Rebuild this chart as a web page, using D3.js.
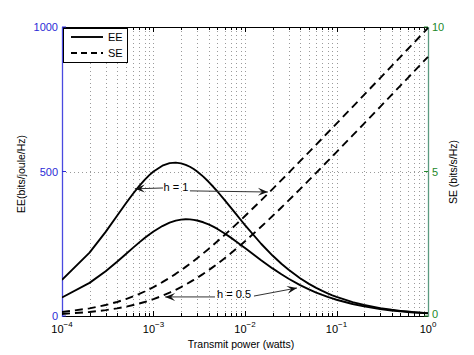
<!DOCTYPE html>
<html><head><meta charset="utf-8">
<script src="https://cdn.jsdelivr.net/npm/d3@7"></script>
<style>
body{margin:0;background:#fff;}
text{font-family:"Liberation Sans",Arial,Helvetica,sans-serif;}
</style></head>
<body><svg id="c" width="474" height="355"></svg>
<script>
// Transmit power samples (watts)
const power = [1e-4,2e-4,3e-4,4e-4,5e-4,6e-4,7e-4,8e-4,9e-4,
  1e-3,1.25e-3,1.5e-3,1.75e-3,2e-3,2.25e-3,2.5e-3,2.75e-3,3e-3,3.5e-3,4e-3,4.5e-3,5e-3,6e-3,7e-3,8e-3,9e-3,
  1e-2,1.5e-2,2e-2,2.5e-2,3e-2,4e-2,5e-2,6e-2,7e-2,8e-2,9e-2,
  0.1,0.15,0.2,0.3,0.4,0.5,0.6,0.7,0.8,0.9,1];
// Energy efficiency (bits/joule/Hz)
const eeH1 = [125.0,219.2,291.2,346.7,390.0,423.8,450.3,471.1,487.4,
  500.0,520.0,528.8,530.7,528.3,523.2,516.4,508.5,500.0,482.2,464.4,447.2,430.8,401.1,375.0,352.2,332.2,
  314.5,250.0,209.2,180.8,159.8,130.7,111.2,97.2,86.6,78.3,71.5,
  65.9,47.9,38.1,27.4,21.6,17.9,15.4,13.5,12.0,10.9,10.0];
const eeH05 = [64.0,114.6,155.1,187.9,214.6,236.6,254.7,269.7,282.2,
  292.5,311.3,323.0,329.8,333.3,334.6,334.3,332.8,330.5,324.3,317.0,309.2,301.2,285.7,271.2,258.0,245.9,
  235.0,193.0,164.7,144.4,129.0,107.1,92.2,81.2,72.8,66.1,60.7,
  56.2,41.4,33.1,24.0,19.1,15.9,13.7,12.1,10.8,9.8,9.0];
// Spectral efficiency (bits/s/Hz)
const seH1 = [0.138,0.263,0.379,0.485,0.585,0.678,0.766,0.848,0.926,
  1.000,1.170,1.322,1.459,1.585,1.700,1.807,1.907,2.000,2.170,2.322,2.459,2.585,2.807,3.000,3.170,3.322,
  3.459,4.000,4.392,4.700,4.954,5.358,5.672,5.931,6.150,6.340,6.508,
  6.658,7.238,7.651,8.234,8.647,8.969,9.231,9.453,9.646,9.816,9.967];
const seH05 = [0.070,0.138,0.202,0.263,0.322,0.379,0.433,0.485,0.536,
  0.585,0.700,0.807,0.907,1.000,1.088,1.170,1.248,1.322,1.459,1.585,1.700,1.807,2.000,2.170,2.322,2.459,
  2.585,3.088,3.459,3.755,4.000,4.392,4.700,4.954,5.170,5.358,5.524,
  5.672,6.248,6.658,7.238,7.651,7.972,8.234,8.455,8.647,8.817,8.969];
const xTickExps = [-4,-3,-2,-1,0];
const leftTicks = [0,500,1000];
const rightTicks = [0,5,10];
const legendLabels = ["EE","SE"];
// annotations: text [p, EE], line start, arrow tip (left-axis units)
const annotations = [
  {label:"h = 1", text:[1.76e-3,446], lines:[[[1.27e-3,443],[6.25e-4,440]],[[2.5e-3,433],[0.0178,429]]]},
  {label:"h = 0.5", text:[7.59e-3,76], lines:[[[4.7e-3,66],[1.34e-3,66]],[[0.01253,69],[0.037,97]]]}
];

const svg = d3.select("#c");
const L=62,R=428,T=27,B=316;
const x = d3.scaleLog().domain([1e-4,1]).range([L,R]);
const yL = d3.scaleLinear().domain([0,1000]).range([B,T]);
const yR = d3.scaleLinear().domain([0,10]).range([B,T]);
const blue="#2b2bd6", green="#22882a";

// grid
const allTicks=[];
for(let e=-4;e<0;e++) for(let m=1;m<10;m++) allTicks.push(m*Math.pow(10,e));
allTicks.push(1);
const grid=svg.append("g").attr("stroke","#9a9a9a").attr("stroke-width",1).attr("stroke-dasharray","1,3");
allTicks.filter(v=>v>1e-4 && v<1).forEach(v=>{
  const px=Math.round(x(v))+0.5;
  grid.append("line").attr("x1",px).attr("x2",px).attr("y1",T).attr("y2",B);
});
grid.append("line").attr("x1",L).attr("x2",R).attr("y1",Math.round(yL(500))+0.5).attr("y2",Math.round(yL(500))+0.5);

// x ticks top & bottom
const tk=svg.append("g").attr("stroke","#000").attr("stroke-width",1);
allTicks.forEach(v=>{
  const px=Math.round(x(v))+0.5;
  const major = Math.abs(Math.log10(v)-Math.round(Math.log10(v)))<1e-9;
  const len = major?5:3;
  tk.append("line").attr("x1",px).attr("x2",px).attr("y1",B).attr("y2",B-len);
  tk.append("line").attr("x1",px).attr("x2",px).attr("y1",T).attr("y2",T+len);
});
svg.append("line").attr("x1",L).attr("x2",R).attr("y1",T+0.5).attr("y2",T+0.5).attr("stroke","#000");
svg.append("line").attr("x1",L).attr("x2",R).attr("y1",B+0.5).attr("y2",B+0.5).attr("stroke","#000");

// x tick labels
xTickExps.forEach(e=>{
  const t=svg.append("text").attr("x",x(Math.pow(10,e))).attr("y",333).attr("text-anchor","middle")
    .attr("font-size",11).attr("fill","#000");
  t.append("tspan").text("10");
  t.append("tspan").attr("dy",-6).attr("font-size",8).text(e===0?"0":"\u2212"+(-e));
});
svg.append("text").attr("x",(L+R)/2-4).attr("y",348).attr("text-anchor","middle").attr("font-size",10.5).text("Transmit power (watts)");

// left axis
svg.append("line").attr("x1",L+0.5).attr("x2",L+0.5).attr("y1",T).attr("y2",B+1).attr("stroke","#4a4ae0").attr("stroke-width",1.3);
leftTicks.forEach(v=>{
  svg.append("line").attr("x1",L).attr("x2",L+4).attr("y1",yL(v)).attr("y2",yL(v)).attr("stroke",blue);
  svg.append("text").attr("x",58).attr("y",yL(v)+4).attr("text-anchor","end").attr("font-size",11).attr("fill",blue).text(v);
});
svg.append("text").attr("transform","translate(25,174) rotate(-90)").attr("text-anchor","middle").attr("font-size",10.5).text("EE(bits/joule/Hz)");

// right axis
svg.append("line").attr("x1",R+0.5).attr("x2",R+0.5).attr("y1",T).attr("y2",B+1).attr("stroke","#5a9a80").attr("stroke-width",1.3);
rightTicks.forEach(v=>{
  svg.append("line").attr("x1",R).attr("x2",R-4).attr("y1",yR(v)).attr("y2",yR(v)).attr("stroke",green);
  svg.append("text").attr("x",432).attr("y",yR(v)+(v===0?2:4)).attr("text-anchor","start").attr("font-size",11).attr("fill",green).text(v);
});
svg.append("text").attr("transform","translate(457,172) rotate(-90)").attr("text-anchor","middle").attr("font-size",10.5).text("SE (bits/s/Hz)");

// curves
svg.append("clipPath").attr("id","pc").append("rect").attr("x",L).attr("y",T-2).attr("width",R-L+2).attr("height",B-T+3);
const lineL = d3.line().x((d,i)=>x(power[i])).y(d=>yL(d));
const lineR = d3.line().x((d,i)=>x(power[i])).y(d=>yR(d));
const cg = svg.append("g").attr("clip-path","url(#pc)").attr("fill","none").attr("stroke","#000").attr("stroke-width",1.9).attr("stroke-linejoin","round");
cg.append("path").attr("d",lineL(eeH1));
cg.append("path").attr("d",lineL(eeH05));
cg.append("path").attr("d",lineR(seH1)).attr("stroke-dasharray","8,5");
cg.append("path").attr("d",lineR(seH05)).attr("stroke-dasharray","8,5");

// annotations
function arrow(p0,p1){
  const x0=x(p0[0]),y0=yL(p0[1]),x1=x(p1[0]),y1=yL(p1[1]);
  svg.append("line").attr("x1",x0).attr("y1",y0).attr("x2",x1).attr("y2",y1).attr("stroke","#333").attr("stroke-width",1);
  const a=Math.atan2(y1-y0,x1-x0)*180/Math.PI;
  svg.append("path").attr("d","M0,0 L-10,-4 L-6,0 L-10,4 Z").attr("fill","#111")
    .attr("transform",`translate(${x1},${y1}) rotate(${a})`);
}
annotations.forEach(an=>{
  an.lines.forEach(l=>arrow(l[0],l[1]));
  svg.append("text").attr("x",x(an.text[0])).attr("y",yL(an.text[1])+4).attr("text-anchor","middle").attr("font-size",11).text(an.label);
});

// legend
const lg=svg.append("g");
lg.append("rect").attr("x",63.5).attr("y",28.5).attr("width",64).attr("height",34).attr("fill","#fff").attr("stroke","#000");
legendLabels.forEach((lab,i)=>{
  const yy=37+i*16;
  lg.append("line").attr("x1",71).attr("x2",103).attr("y1",yy).attr("y2",yy).attr("stroke","#000").attr("stroke-width",1.9)
    .attr("stroke-dasharray",i?"6,4":null);
  lg.append("text").attr("x",108).attr("y",yy+4).attr("font-size",11).text(lab);
});
</script></body></html>
